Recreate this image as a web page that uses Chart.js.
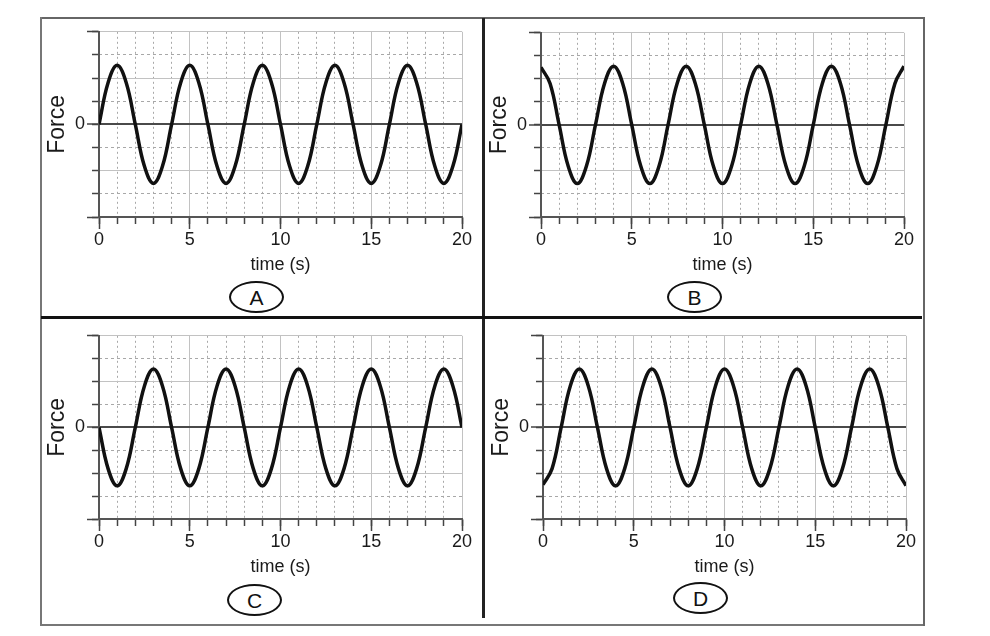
<!DOCTYPE html>
<html>
<head>
<meta charset="utf-8">
<script src="https://cdn.jsdelivr.net/npm/chart.js@4.4.1/dist/chart.umd.min.js"></script>
<style>
  html, body { margin:0; padding:0; background:#fff; }
  body { width:990px; height:636px; position:relative; overflow:hidden; font-family:'Liberation Sans', Arial, sans-serif; }
  canvas { position:absolute; }
  .ln { position:absolute; }
  .tag { position:absolute; width:55px; height:32px; margin-left:-28px; margin-top:-16px; border:2px solid #111; border-radius:50%; box-sizing:border-box; text-align:center; font-size:21px; line-height:29px; color:#111; }
</style>
</head>
<body>
<div class="ln" style="left:41px;top:17px;width:884px;height:2px;background:#666"></div>
<div class="ln" style="left:41px;top:624px;width:884px;height:2px;background:#777"></div>
<div class="ln" style="left:40px;top:17px;width:2px;height:609px;background:#777"></div>
<div class="ln" style="left:923px;top:17px;width:2px;height:609px;background:#666"></div>
<div class="ln" style="left:482px;top:18px;width:3px;height:600px;background:#222"></div>
<div class="ln" style="left:41px;top:316px;width:881px;height:3px;background:#111"></div>

<canvas id="cA"></canvas>
<canvas id="cB"></canvas>
<canvas id="cC"></canvas>
<canvas id="cD"></canvas>

<div class="tag" style="left:257px;top:297px">A</div>
<div class="tag" style="left:695px;top:297px">B</div>
<div class="tag" style="left:255px;top:600px">C</div>
<div class="tag" style="left:701px;top:598px">D</div>

<script>
// ---- data (time in s, force in grid units) ----
const times = [0,0.5,1,1.5,2,2.5,3,3.5,4,4.5,5,5.5,6,6.5,7,7.5,8,8.5,9,9.5,10,
               10.5,11,11.5,12,12.5,13,13.5,14,14.5,15,15.5,16,16.5,17,17.5,18,18.5,19,19.5,20];
const forceA = [0,1.8,2.55,1.8,0,-1.8,-2.55,-1.8, 0,1.8,2.55,1.8,0,-1.8,-2.55,-1.8,
                0,1.8,2.55,1.8,0,-1.8,-2.55,-1.8, 0,1.8,2.55,1.8,0,-1.8,-2.55,-1.8,
                0,1.8,2.55,1.8,0,-1.8,-2.55,-1.8, 0];
const forceB = [2.5,1.8,0,-1.8,-2.55,-1.8,0,1.8, 2.55,1.8,0,-1.8,-2.55,-1.8,0,1.8,
                2.55,1.8,0,-1.8,-2.55,-1.8,0,1.8, 2.55,1.8,0,-1.8,-2.55,-1.8,0,1.8,
                2.55,1.8,0,-1.8,-2.55,-1.8,0,1.8, 2.55];
const forceC = [0,-1.8,-2.55,-1.8,0,1.8,2.55,1.8, 0,-1.8,-2.55,-1.8,0,1.8,2.55,1.8,
                0,-1.8,-2.55,-1.8,0,1.8,2.55,1.8, 0,-1.8,-2.55,-1.8,0,1.8,2.55,1.8,
                0,-1.8,-2.55,-1.8,0,1.8,2.55,1.8, 0];
const forceD = [-2.5,-1.8,0,1.8,2.55,1.8,0,-1.8, -2.55,-1.8,0,1.8,2.55,1.8,0,-1.8,
                -2.55,-1.8,0,1.8,2.55,1.8,0,-1.8, -2.55,-1.8,0,1.8,2.55,1.8,0,-1.8,
                -2.55,-1.8,0,1.8,2.55,1.8,0,-1.8, -2.55];
const xMin = 0, xMax = 20, yMin = -4, yMax = 4;
const xTitle = 'time (s)';
const yTitle = 'Force';

Chart.defaults.font.family = "'Liberation Sans', Arial, sans-serif";
Chart.defaults.color = '#1a1a1a';

const MINOR = '#a8a8a8', MAJOR = '#c2c2c2', AXIS = '#555', TICK = '#444';

function makeChart(id, values, plot) {
  // plot = {l, t, r, b} target plot-area pixels on the page
  const cv = document.getElementById(id);
  const W = (plot.r - plot.l) + 60 + 22;
  const H = (plot.b - plot.t) + 10 + 60;
  cv.width = W; cv.height = H;
  cv.style.left = (plot.l - 60) + 'px';
  cv.style.top = (plot.t - 10) + 'px';
  cv.style.width = W + 'px'; cv.style.height = H + 'px';
  const yW = 54.8, xH = 58.8;
  return new Chart(cv, {
    type: 'line',
    data: {
      datasets: [{
        data: times.map((t, i) => ({x: t, y: values[i]})),
        borderColor: '#111', borderWidth: 3.5, pointRadius: 0, tension: 0.4, fill: false,
        xAxisID: 'x', yAxisID: 'y'
      }]
    },
    options: {
      responsive: false, animation: false, devicePixelRatio: 1,
      layout: { padding: { left: 60 - yW, right: 22, top: 10, bottom: 60 - xH } },
      plugins: { legend: { display: false }, tooltip: { enabled: false } },
      scales: {
        xm: {
          type: 'linear', position: 'bottom', min: xMin, max: xMax,
          ticks: { stepSize: 1, display: false },
          grid: { color: c => (c.tick && c.tick.value % 5 === 0) ? 'rgba(0,0,0,0)' : MINOR,
                  lineWidth: 1, tickLength: 7, tickColor: TICK, tickWidth: 1.5, borderDash: [2, 3] },
          border: { display: false, dash: [2, 3] },
          afterFit: s => { s.height = 0; }
        },
        ym: {
          type: 'linear', position: 'left', min: yMin, max: yMax,
          ticks: { stepSize: 1, display: false },
          grid: { color: c => (c.tick && c.tick.value % 2 === 0) ? 'rgba(0,0,0,0)' : MINOR,
                  lineWidth: 1, tickLength: 7, tickColor: TICK, tickWidth: 1.5, borderDash: [3, 3] },
          border: { display: false, dash: [3, 3] },
          afterFit: s => { s.width = 0; }
        },
        x: {
          type: 'linear', position: 'bottom', min: xMin, max: xMax,
          ticks: { stepSize: 5, padding: 0, color: '#1a1a1a', font: { size: 18 }, maxRotation: 0 },
          grid: { color: MAJOR, lineWidth: 1, tickLength: 12, tickColor: TICK, tickWidth: 1.5 },
          border: { display: true, color: AXIS, width: 2 },
          title: { display: true, text: xTitle, color: '#1a1a1a', font: { size: 18 }, padding: 0 },
          afterFit: s => { s.height = xH; }
        },
        y: {
          type: 'linear', position: 'left', min: yMin, max: yMax,
          ticks: { stepSize: 2, padding: 2, color: '#1a1a1a', font: { size: 18 },
                   callback: v => (v === 0 ? '0' : '') },
          grid: { color: c => (c.tick && c.tick.value === 0) ? '#4a4a4a' : MAJOR,
                  lineWidth: c => (c.tick && c.tick.value === 0) ? 2 : 1,
                  tickLength: 12,
                  tickColor: c => (c.tick && c.tick.value % 4 === 0) ? TICK : 'rgba(0,0,0,0)',
                  tickWidth: 1.5 },
          border: { display: true, color: AXIS, width: 2 },
          title: { display: true, text: yTitle, color: '#1a1a1a', font: { size: 23 }, padding: 0 },
          afterFit: s => { s.width = yW; }
        }
      }
    }
  });
}

makeChart('cA', forceA, { l: 99,  t: 29,  r: 462, b: 217 });
makeChart('cB', forceB, { l: 541, t: 30,  r: 904, b: 217 });
makeChart('cC', forceC, { l: 99,  t: 333, r: 462, b: 519 });
makeChart('cD', forceD, { l: 543, t: 333, r: 906, b: 519 });
</script>
</body>
</html>
